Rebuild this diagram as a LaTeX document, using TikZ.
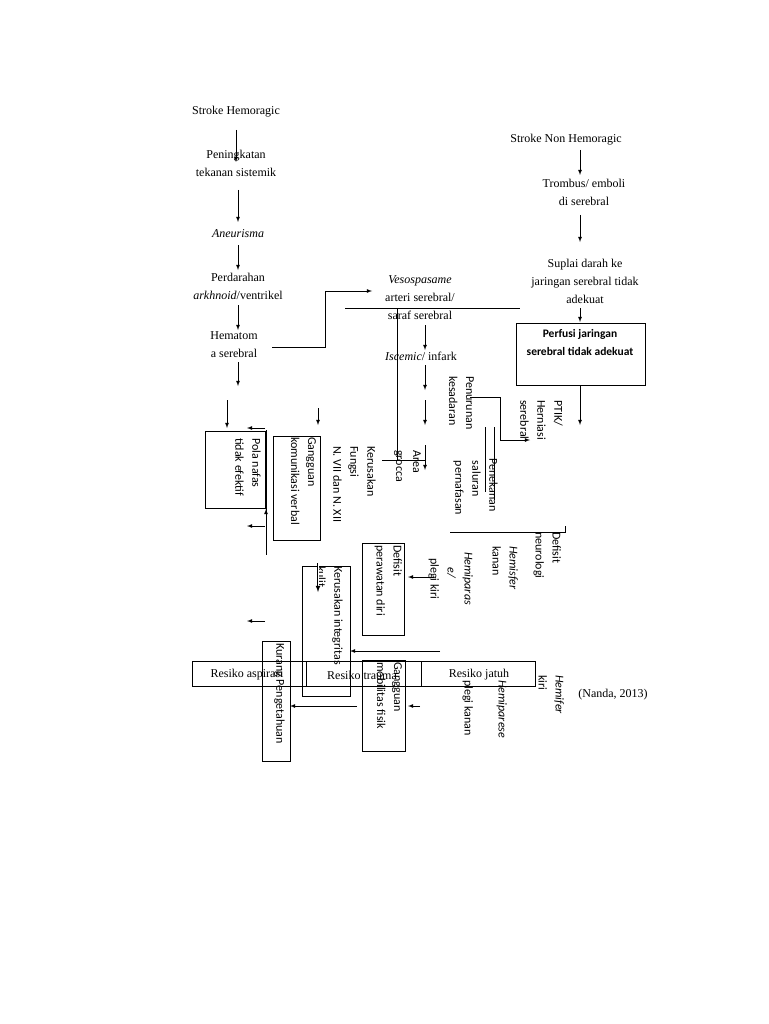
\documentclass[tikz,border=0pt]{standalone}
\usepackage{fontspec}
\setmainfont{Liberation Serif}
\newfontfamily\carl{Carlito}
\begin{document}
\begin{tikzpicture}[x=1pt,y=-1pt,
 t/.style={font=\fontsize{12}{18}\selectfont,inner sep=0pt,align=center},
 r/.style={font=\carl\fontsize{12}{17}\selectfont,inner sep=0pt,rotate=-90,anchor=north west,align=left},
 bx/.style={draw,thick},
 a/.style={->,>=latex,thick},
 l/.style={thick}]
\useasboundingbox (0,0) rectangle (768,1024);
% left chain
\node[t] (sh) at (236,112) {Stroke Hemoragic};
\node[t] (pk) at (236,163) {Peningkatan\\tekanan sistemik};
\node[t] (an) at (238,234) {\itshape Aneurisma};
\node[t] (pd) at (238,286) {Perdarahan\\\textit{arkhnoid}/ventrikel};
\node[t] (hm) at (234,345) {Hematom\\a serebral};
\coordinate (h1) at (236,130); \coordinate (h2) at (236,162);
\draw[a] (h1) -- (h2);
\coordinate (h3) at (238,190); \coordinate (h4) at (238,222);
\draw[a] (h3) -- (h4);
\coordinate (h5) at (238,245); \coordinate (h6) at (238,270);
\draw[a] (h5) -- (h6);
\coordinate (h7) at (238,305); \coordinate (h8) at (238,330);
\draw[a] (h7) -- (h8);
\coordinate (h9) at (238,362); \coordinate (h10) at (238,386);
\draw[a] (h9) -- (h10);
\coordinate (v0) at (272,347); \coordinate (v1) at (325,347); \coordinate (v2) at (325,291); \coordinate (v3) at (372,291);
\draw[a] (v0) -- (v1) -- (v2) -- (v3);
\node[t] (vs) at (420,298) {\textit{Vesospasame}\\arteri serebral/\\saraf serebral};
\coordinate (s1) at (345,308); \coordinate (s2) at (520,308);
\draw[l] (s1) -- (s2);
\node[t] (isc) at (421,356) {\textit{Iscemic}/ infark};
\foreach \i/\ya/\yb in {1/325/350,2/365/390,3/400/425,4/445/470}{
 \coordinate (ia\i) at (425,\ya); \coordinate (ib\i) at (425,\yb); \draw[a] (ia\i) -- (ib\i);}
\coordinate (g1) at (397,308); \coordinate (g2) at (397,460); \coordinate (g3) at (382,460); \coordinate (g4) at (425,460);
\draw[l] (g1) -- (g2); \draw[l] (g3) -- (g4);
% right chain
\node[t] (snh) at (566,140) {Stroke Non Hemoragic};
\node[t] (tr) at (584,192) {Trombus/ emboli\\di serebral};
\node[t] (sp) at (585,281) {Suplai darah ke\\jaringan serebral tidak\\adekuat};
\coordinate (r1) at (580,150); \coordinate (r2) at (580,175); \draw[a] (r1) -- (r2);
\coordinate (r3) at (580,215); \coordinate (r4) at (580,242); \draw[a] (r3) -- (r4);
\coordinate (r5) at (580,308); \coordinate (r6) at (580,322); \draw[a] (r5) -- (r6);
\node[bx,minimum width=129,minimum height=62,anchor=north west] (pf) at (516,323) {};
\node[font=\carl\bfseries\fontsize{11.5}{18}\selectfont,align=center] (pft) at (580,343) {Perfusi jaringan\\serebral tidak adekuat};
\coordinate (r7) at (580,385); \coordinate (r8) at (580,425); \draw[a] (r7) -- (r8);
\node[r] (pt) at (563,400) {PTIK/\\Herniasi\\serebral};
\node[r] (pn) at (474,376) {Penurunan\\kesadaran};
\coordinate (k1) at (470,397); \coordinate (k2) at (500,397); \coordinate (k3) at (500,440); \coordinate (k4) at (530,440);
\draw[a] (k1) -- (k2) -- (k3) -- (k4);
\node[r] (pe) at (498,458) {Penekanan\\\ saluran\\\ pernafasan};
\coordinate (q1) at (485,427); \coordinate (q2) at (485,492); \draw[l] (q1) -- (q2);
\coordinate (q3) at (494,427); \coordinate (q4) at (494,500); \draw[l] (q3) -- (q4);
\node[r] (ar) at (421,450) {Area\\grocca};
\node[r] (kf) at (376,446) {Kerusakan\\Fungsi\\N. VII dan N. XII};
% left boxes
\coordinate (p1) at (227,400); \coordinate (p2) at (227,428); \draw[a] (p1) -- (p2);
\node[bx,minimum width=60,minimum height=77,anchor=north west] (pn2) at (205,431) {};
\node[r] (pnt) at (261,438) {Pola nafas\\tidak efektif};
\coordinate (w1) at (266,430); \coordinate (w2) at (266,555); \draw[l] (w1) -- (w2);
\coordinate (w3) at (266,530); \coordinate (w4) at (266,509); \draw[a] (w3) -- (w4);
\coordinate (e1) at (265,428); \coordinate (e2) at (247,428); \draw[a] (e1) -- (e2);
\coordinate (e3) at (265,526); \coordinate (e4) at (247,526); \draw[a] (e3) -- (e4);
\coordinate (e5) at (265,621); \coordinate (e6) at (247,621); \draw[a] (e5) -- (e6);
\coordinate (c1) at (318,408); \coordinate (c2) at (318,425); \draw[a] (c1) -- (c2);
\node[bx,minimum width=47,minimum height=104,anchor=north west] (gk) at (273,436) {};
\node[r] (gkt) at (316,437) {Gangguan\\komunikasi verbal};
\coordinate (d1) at (450,532); \coordinate (d2) at (565,532); \coordinate (d3) at (565,526);
\draw[l] (d1) -- (d2) -- (d3);
\node[r] (dn) at (561,532) {Defisit\\neurologi};
\node[r] (hk) at (518,546) {\textit{Hemisfer}\\kanan};
\node[r] (hp) at (473,552) {\textit{Hemiparas}\\\hspace{1.3em}\textit{e/}\\\hspace{0.5em}plegi kiri};
\coordinate (f1) at (434,577); \coordinate (f2) at (408,577); \draw[a] (f1) -- (f2);
\node[bx,minimum width=42,minimum height=92,anchor=north west] (dp) at (362,543) {};
\node[r] (dpt) at (402,545) {Defisit\\perawatan diri};
\node[bx,minimum width=48,minimum height=130,anchor=north west] (ki) at (302,566) {};
\node[r] (kit) at (343,566) {Kerusakan integritas\\kulit};
\coordinate (u1) at (318,563); \coordinate (u2) at (318,592); \draw[a,double] (u1) -- (u2);
\coordinate (f3) at (440,651); \coordinate (f4) at (350,651); \draw[a] (f3) -- (f4);
% resiko row
\node[bx,minimum width=114,minimum height=25,anchor=north west] (ra) at (192,661) {};
\node[bx,minimum width=115,minimum height=25,anchor=north west] (rt) at (306,661) {};
\node[bx,minimum width=114,minimum height=25,anchor=north west] (rj) at (421,661) {};
\node[t] (rat) at (247,675) {Resiko aspirasi};
\node[t] (rtt) at (362,675) {Resiko trauma};
\node[t] (rjt) at (479,675) {Resiko jatuh};
\node[bx,minimum width=28,minimum height=120,anchor=north west] (kp) at (262,641) {};
\node[r] (kpt) at (285,643) {Kurang Pengetahuan};
\node[bx,minimum width=43,minimum height=91,anchor=north west] (gm) at (362,660) {};
\node[r] (gmt) at (402,662) {Gangguan\\mobilitas fisik};
\coordinate (m1) at (357,706); \coordinate (m2) at (290,706); \draw[a] (m1) -- (m2);
\coordinate (m3) at (420,706); \coordinate (m4) at (408,706); \draw[a] (m3) -- (m4);
\node[r] (hpk) at (507,680) {\textit{Hemiparese}\\\ \\plegi kanan};
\node[r] (hfk) at (564,675) {\textit{Hemifer}\\kiri};
\node[t] (nd) at (613,695) {(Nanda, 2013)};
\end{tikzpicture}
\end{document}
